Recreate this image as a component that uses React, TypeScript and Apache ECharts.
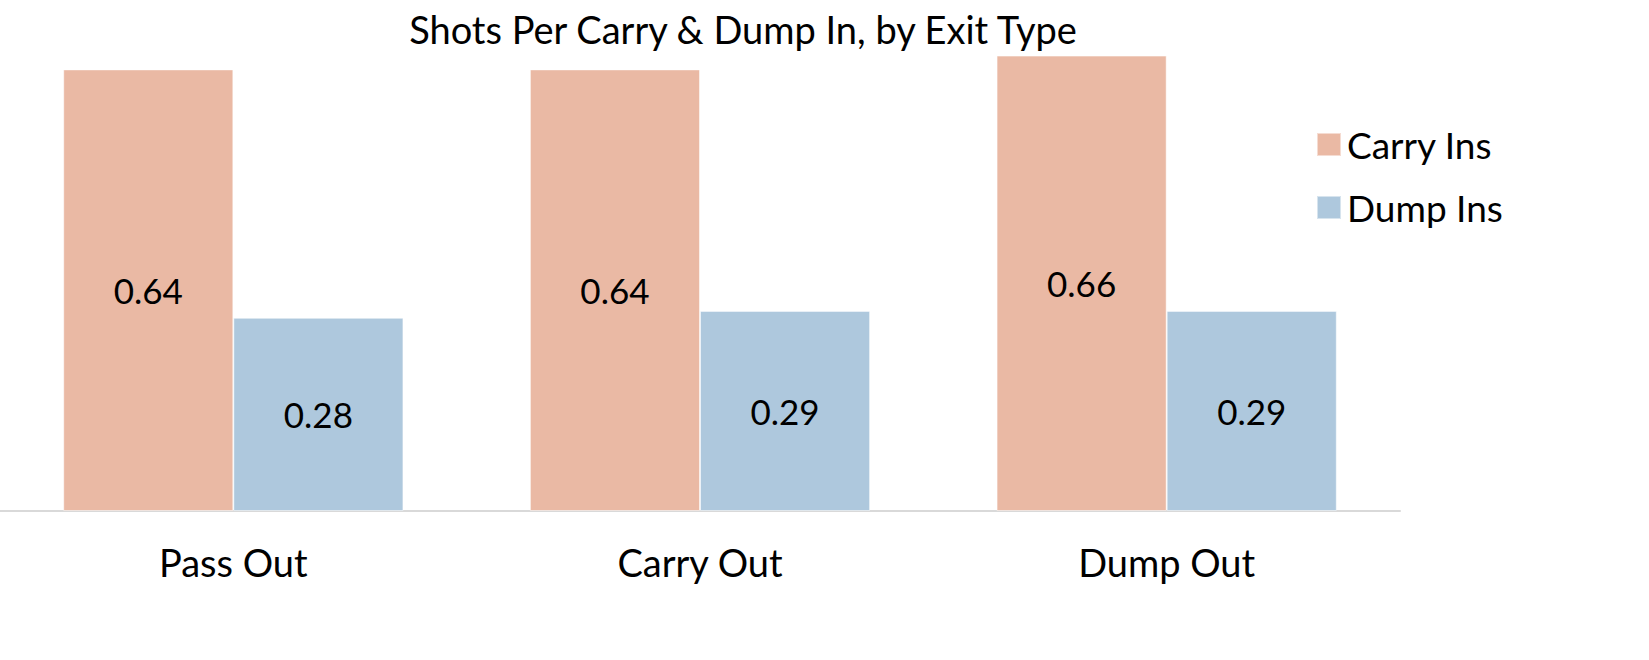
import React, { useEffect, useRef } from 'react';
import * as echarts from 'echarts';

const categories = ['Pass Out', 'Carry Out', 'Dump Out'];
const carryIns = [0.64, 0.64, 0.66];
const dumpIns = [0.28, 0.29, 0.29];

const FONT = 'Lato';

const App: React.FC = () => {
  const chartRef = useRef<HTMLDivElement>(null);

  useEffect(() => {
    if (!chartRef.current) return;
    const chart = echarts.init(chartRef.current, null, { renderer: 'svg' });

    const barLabel = {
      show: true,
      position: 'inside',
      color: '#000',
      fontFamily: FONT,
      fontSize: 35,
      formatter: (p: any) => p.value.toFixed(2),
    };

    chart.setOption({
      animation: false,
      backgroundColor: '#fff',
      title: {
        text: 'Shots Per Carry & Dump In, by Exit Type',
        left: 738,
        top: 5,
        textAlign: 'center',
        textStyle: { fontFamily: FONT, fontSize: 38, fontWeight: 'normal', color: '#000' },
      },
      legend: {
        orient: 'vertical',
        left: 1311,
        top: 121,
        itemWidth: 24,
        itemHeight: 23,
        itemGap: 26,
        icon: 'rect',
        textStyle: { fontFamily: FONT, fontSize: 37, color: '#000', padding: [0, 0, 0, 1] },
        data: ['Carry Ins', 'Dump Ins'],
      },
      grid: { left: 0, right: 249, top: 28, bottom: 149, containLabel: false },
      xAxis: {
        type: 'category',
        data: categories,
        axisLine: { lineStyle: { color: '#d9d9d9', width: 2 } },
        axisTick: { show: false },
        axisLabel: { margin: 32, fontFamily: FONT, fontSize: 38, color: '#000' },
      },
      yAxis: {
        type: 'value',
        min: 0,
        max: 0.7,
        show: false,
        splitLine: { show: false },
      },
      series: [
        {
          name: 'Carry Ins',
          type: 'bar',
          data: carryIns,
          barGap: '0%',
          barCategoryGap: '27.1%',
          itemStyle: { color: '#eab9a4', borderColor: 'rgba(255,255,255,0.5)', borderWidth: 1 },
          label: barLabel,
        },
        {
          name: 'Dump Ins',
          type: 'bar',
          data: dumpIns,
          barGap: '0%',
          barCategoryGap: '27.1%',
          itemStyle: { color: '#aec8dd', borderColor: 'rgba(255,255,255,0.5)', borderWidth: 1 },
          label: barLabel,
        },
      ],
    });

    const resizeChart = () => chart.resize();
    window.addEventListener('resize', resizeChart);
    return () => {
      window.removeEventListener('resize', resizeChart);
      chart.dispose();
    };
  }, []);

  return (
    <div
      ref={chartRef}
      style={{ position: 'absolute', left: 0, top: 0, width: '1649px', height: '660px' }}
    />
  );
};

export default App;
